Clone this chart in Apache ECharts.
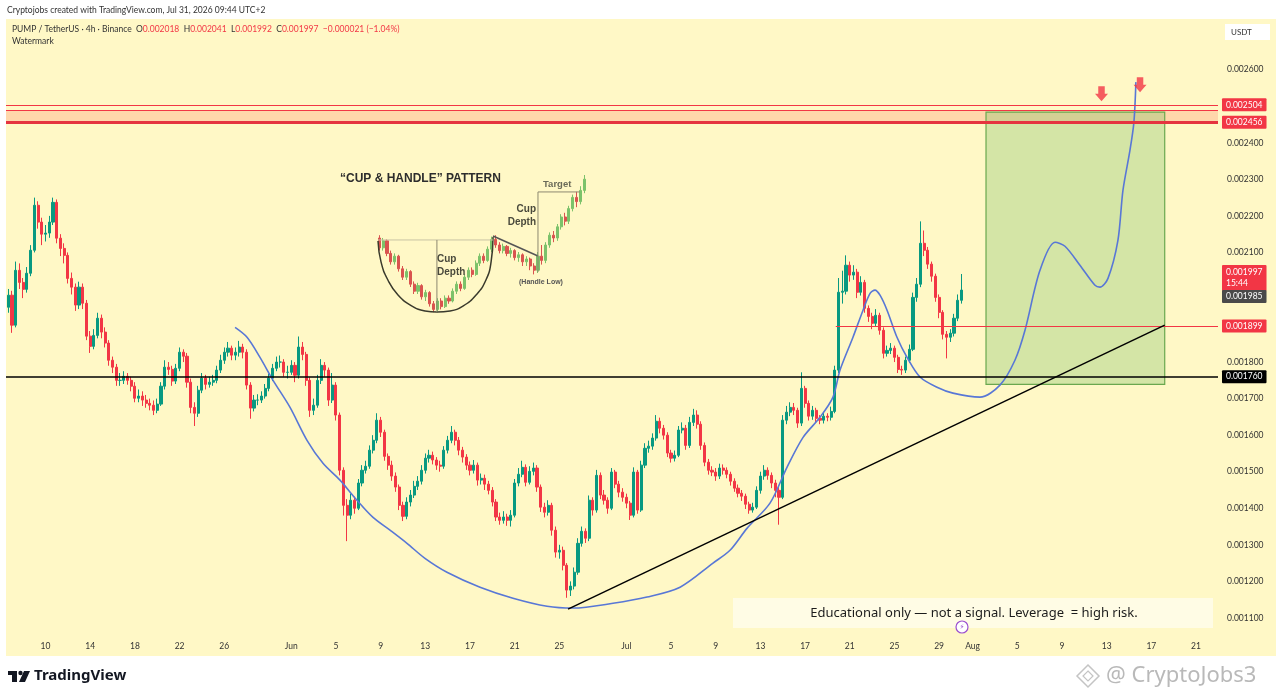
<!DOCTYPE html>
<html>
<head>
<meta charset="utf-8">
<title>PUMP / TetherUS 4h</title>
<style>
  html, body { margin: 0; padding: 0; background: #fff; }
  #main { width: 1280px; height: 697px; }
</style>
</head>
<body>
<div id="main"></div>
<script src="https://cdn.jsdelivr.net/npm/echarts@6/dist/echarts.min.js"></script>
<script>
// x unit = days since May 1 (day 0), prices in millionths of USDT
var firstDay = 5 + 2 / 3;      // first candle: May 6 16:00
var candleStep = 1 / 3;        // one candle every 8h
var firstOpen = 1950;

var closes = [
  1983,1901,2051,2018,1999,2043,2106,2229,2183,2150,
  2153,2183,2237,2139,2111,2092,2029,2005,1956,2005,
  1961,1871,1843,1873,1920,1882,1852,1805,1786,1750,
  1750,1761,1750,1734,1701,1707,1696,1687,1682,1668,
  1685,1734,1786,1780,1748,1783,1827,1816,1745,1676,
  1660,1723,1756,1739,1745,1750,1778,1805,1827,1838,
  1819,1827,1841,1827,1737,1674,1696,1696,1707,1728,
  1756,1783,1800,1800,1772,1772,1791,1764,1841,1821,
  1750,1668,1682,1750,1791,1778,1696,1737,1655,1504,
  1408,1381,1422,1400,1469,1504,1515,1559,1586,1641,
  1608,1542,1518,1488,1458,1408,1378,1417,1436,1460,
  1474,1504,1537,1545,1532,1518,1515,1559,1586,1608,
  1586,1559,1540,1518,1504,1518,1477,1482,1466,1449,
  1417,1376,1367,1376,1367,1381,1469,1493,1512,1471,
  1501,1510,1458,1403,1389,1408,1340,1280,1285,1244,
  1176,1187,1225,1304,1337,1318,1422,1395,1490,1436,
  1422,1400,1499,1466,1444,1430,1414,1381,1499,1395,
  1518,1564,1570,1592,1638,1619,1600,1551,1537,1545,
  1614,1619,1572,1635,1655,1630,1572,1526,1504,1499,
  1488,1510,1504,1493,1474,1455,1441,1433,1411,1395,
  1403,1449,1488,1504,1490,1469,1449,1430,1641,1663,
  1676,1668,1633,1728,1687,1652,1668,1646,1641,1652,
  1649,1665,1778,1991,1994,2065,2038,2046,1991,2018,
  1947,1925,1906,1928,1887,1824,1832,1838,1813,1780,
  1778,1805,1835,1977,2013,2125,2106,2068,2035,1977,
  1936,1876,1868,1879,1920,1969,1997
];
var highs = [
  2000,1995,2075,2070,2030,2060,2120,2250,2240,2195,
  2175,2200,2250,2245,2150,2125,2100,2045,2015,2020,
  2015,1970,1885,1890,1935,1930,1895,1860,1815,1795,
  1770,1775,1770,1760,1745,1725,1720,1710,1700,1695,
  1700,1745,1805,1800,1790,1795,1840,1835,1825,1755,
  1690,1735,1770,1765,1760,1765,1790,1820,1840,1855,
  1845,1840,1858,1850,1835,1745,1710,1712,1720,1740,
  1768,1795,1815,1818,1808,1790,1805,1800,1870,1855,
  1828,1758,1700,1765,1808,1800,1785,1770,1745,1662,
  1512,1425,1440,1432,1480,1518,1530,1572,1600,1660,
  1650,1615,1550,1530,1498,1465,1418,1430,1450,1475,
  1488,1518,1550,1560,1555,1540,1530,1570,1598,1625,
  1615,1595,1568,1548,1528,1532,1525,1495,1492,1475,
  1458,1425,1388,1392,1385,1395,1480,1510,1530,1520,
  1515,1525,1518,1465,1415,1422,1415,1350,1300,1295,
  1250,1200,1238,1318,1350,1345,1435,1430,1505,1498,
  1450,1430,1510,1505,1475,1455,1440,1420,1512,1505,
  1530,1578,1585,1605,1655,1648,1628,1608,1560,1558,
  1625,1635,1628,1650,1672,1668,1638,1580,1535,1515,
  1510,1522,1520,1512,1500,1482,1465,1450,1440,1418,
  1415,1460,1500,1518,1512,1498,1478,1458,1655,1680,
  1690,1688,1675,1772,1735,1695,1680,1675,1655,1662,
  1660,1678,1790,2030,2050,2092,2075,2065,2055,2035,
  2025,1955,1935,1945,1935,1895,1845,1852,1845,1820,
  1790,1815,1848,1990,2030,2185,2160,2115,2075,2042,
  1985,1942,1885,1890,1932,1985,2041
];
var lows = [
  1935,1880,1895,2000,1975,1990,2035,2100,2165,2120,
  2130,2140,2175,2125,2090,2070,2015,1985,1940,1945,
  1945,1860,1825,1835,1865,1865,1840,1790,1770,1735,
  1735,1740,1738,1720,1690,1690,1680,1675,1668,1655,
  1660,1680,1725,1765,1735,1740,1775,1800,1730,1660,
  1625,1650,1715,1725,1730,1735,1742,1770,1795,1815,
  1805,1805,1815,1810,1725,1645,1665,1682,1688,1700,
  1720,1748,1775,1785,1760,1755,1765,1745,1755,1805,
  1735,1650,1655,1675,1740,1760,1680,1688,1640,1490,
  1380,1310,1370,1385,1395,1460,1495,1508,1550,1578,
  1595,1530,1505,1475,1445,1395,1365,1370,1405,1428,
  1450,1465,1495,1525,1520,1505,1500,1508,1550,1578,
  1572,1545,1525,1505,1490,1495,1462,1465,1450,1438,
  1405,1365,1355,1358,1352,1350,1375,1460,1485,1460,
  1465,1490,1445,1390,1375,1380,1325,1265,1262,1230,
  1155,1160,1178,1218,1295,1305,1310,1380,1388,1425,
  1410,1385,1395,1455,1430,1418,1400,1368,1375,1385,
  1390,1510,1552,1560,1585,1605,1588,1540,1525,1528,
  1540,1605,1560,1565,1625,1618,1560,1515,1492,1488,
  1475,1480,1492,1482,1462,1445,1430,1420,1398,1385,
  1388,1398,1440,1478,1478,1455,1430,1355,1425,1630,
  1652,1655,1620,1625,1675,1640,1642,1635,1630,1632,
  1638,1640,1660,1770,1960,1985,2020,2025,1975,1982,
  1935,1910,1890,1898,1875,1810,1815,1822,1800,1770,
  1765,1770,1798,1830,1965,2005,2090,2055,2020,1965,
  1920,1862,1810,1855,1870,1912,1960
];

// hand-drawn projection curve (blue)
var curveDays = [25.97,27.04,28.20,29.37,30.89,32.41,33.84,35.36,36.88,38.32,39.84,41.36,42.97,44.94,47.90,50.85,53.90,56.23,59.81,62.85,65.81,68.76,70.28,71.80,73.86,75.38,76.82,78.34,79.50,80.13,81.29,82.19,82.82,83.26,83.71,84.34,85.23,86.13,87.29,88.81,90.24,92.66,94.45,95.79,96.69,98.03,99.38,100.27,101.61,102.96,103.40,104.12,105.01,105.46,106.09,106.44,106.62];
var curvePrices = [1895,1868,1813,1750,1676,1586,1523,1477,1422,1375,1340,1304,1263,1225,1184,1154,1132,1127,1140,1157,1184,1250,1285,1345,1414,1512,1594,1649,1704,1778,1868,1942,1988,1997,1983,1942,1868,1813,1759,1731,1715,1704,1737,1805,1887,2051,2128,2117,2065,2010,2005,2029,2133,2270,2380,2456,2566];

// drawing levels
var resistTop = 0.002504, resistZoneTop = 0.00249, resistLine = 0.002456;
var supportLine = 0.00176, midLine = 0.001899, midLineStart = 79.75;
var lastPrice = 0.001997, prevClose = 0.001985;
var trendFrom = [55.78, 0.001124], trendTo = [109.2, 0.001901];
var targetBox = [[93.2, 0.002484], [109.2, 0.001739]];
var arrowDays = [103.54, 106.99], arrowPrices = [0.002534, 0.002559];

// axis ticks
var xTickDays = [9,13,17,21,25,31,35,39,43,47,51,55,61,65,69,73,77,81,85,89,92,96,100,104,108,112];
var xTickLabels = ['10','14','18','22','26','Jun','5','9','13','17','21','25','Jul','5','9','13','17','21','25','29','Aug','5','9','13','17','21'];
var yTickValues = [0.0011,0.0012,0.0013,0.0014,0.0015,0.0016,0.0017,0.0018,0.0021,0.0022,0.0023,0.0024,0.0026];

// cup & handle illustration (own 0..100 units)
var insetOpen  = [55,48,53,44,38,42,33,27,31,22,17,21,13,16,8,4, 10,6,12,10,17,22,19,27,32,29,37,42,39,47, 54,50,46,49,44,46,41,43,38,40,35, 32,42,39,50,57,55,63,70,67,76,84,81,89];
var insetClose = [48,53,44,38,42,33,27,31,22,17,21,13,16,8,4,10, 6,12,10,17,22,19,27,32,29,37,42,39,47,54, 50,46,49,44,46,41,43,38,40,35,32, 42,39,50,57,55,63,70,67,76,84,81,89,97];
var insetLow   = [46,46,42,36,36,31,25,25,20,15,15,11,10,6,2,2, 4,5,8,9,15,17,18,25,27,28,35,37,38,45, 48,44,44,42,41,39,38,35,35,32,29, 30,36,37,48,52,53,61,64,65,74,77,79,87];
var insetHigh  = [57,55,54,46,44,43,35,33,32,24,23,22,18,17,10,12, 12,14,14,19,24,24,29,34,34,39,44,44,49,56, 57,52,51,50,48,47,45,44,42,41,37, 45,50,52,59,60,65,72,73,78,86,88,92,100];
var insetArc = [[1.4,52.9],[2.8,37.9],[6.0,25.0],[10.7,14.3],[17.2,6.4],[23.3,2.9],[28.8,2.1],[34.9,2.9],[40.9,6.4],[47.0,14.3],[51.6,25.0],[54.0,37.9],[54.9,55.7]];
var insetCupTop = [[1.4,53.6],[54.9,53.6]];
var insetCupDepth = [[28.8,53.6],[28.8,2.1]];
var insetHandle = [[54.9,56.4],[75.8,42.1]];
var insetBreakDepth = [[75.8,87.9],[75.8,30.7]];
var insetTarget = [[75.8,87.9],[95.3,87.9]];

var UP = '#089981', DOWN = '#f23645';
var FONT = 'Lato';

var candleData = closes.map(function (c, i) {
  var o = i === 0 ? firstOpen : closes[i - 1];
  var h = Math.max(highs[i], o, c), l = Math.min(lows[i], o, c);
  return [firstDay + i * candleStep, o / 1e6, c / 1e6, l / 1e6, h / 1e6];
});
var curveData = curveDays.map(function (d, i) { return [d, curvePrices[i] / 1e6]; });
var arrowData = arrowDays.map(function (d, i) { return [d, arrowPrices[i]]; });
var insetData = insetOpen.map(function (o, i) {
  return [2 + 1.8 * i, o, insetClose[i], insetLow[i], insetHigh[i]];
});

function insetLine(data, color, width, smooth) {
  return {
    type: 'line', xAxisIndex: 1, yAxisIndex: 1, data: data, smooth: smooth || false,
    symbol: 'none', silent: true, z: 3,
    lineStyle: { color: color, width: width }
  };
}

var axisBox = { color: '#fff', fontSize: 8.5, fontFamily: FONT, padding: [2, 4, 2, 4], borderRadius: 1 };
function boxLabel(bg, text, extra) {
  var l = Object.assign({ show: true, position: 'end', distance: 4, backgroundColor: bg, formatter: text }, axisBox);
  return Object.assign(l, extra || {});
}
var hiddenLine = { color: 'rgba(0,0,0,0)', width: 1, type: 'solid' };

var chart = echarts.init(document.getElementById('main'));
var option = {
  backgroundColor: '#ffffff',
  animation: false,
  grid: [
    { left: 6, right: 62, top: 20, bottom: 59 },
    { left: 375, top: 175, width: 215, height: 140 }
  ],
  xAxis: [
    {
      type: 'value', gridIndex: 0, min: 5.46, max: 113.97,
      axisLine: { show: false }, axisTick: { show: false }, splitLine: { show: false },
      axisLabel: {
        customValues: xTickDays, color: '#333', fontSize: 8.5, fontFamily: FONT, margin: 4,
        formatter: function (v) {
          var k = xTickDays.indexOf(Math.round(v));
          return k < 0 ? '' : xTickLabels[k];
        }
      }
    },
    { type: 'value', gridIndex: 1, min: 0, max: 100, show: false }
  ],
  yAxis: [
    {
      type: 'value', gridIndex: 0, position: 'right', min: 0.001045, max: 0.002736,
      axisLine: { show: false }, axisTick: { show: false }, splitLine: { show: false },
      axisLabel: {
        customValues: yTickValues, color: '#333', fontSize: 8.5, fontFamily: FONT, margin: 9,
        align: 'left', formatter: function (v) { return v.toFixed(6); }
      }
    },
    { type: 'value', gridIndex: 1, min: 0, max: 100, show: false }
  ],
  series: [
    {
      type: 'candlestick', data: candleData, barWidth: 2.6,
      itemStyle: { color: UP, color0: DOWN, borderColor: UP, borderColor0: DOWN, borderWidth: 1 }
    },
    {
      type: 'line', data: curveData, smooth: 0.3, symbol: 'none', clip: false, z: 4,
      lineStyle: { color: '#5877d6', width: 1.6 },
      markArea: {
        silent: true,
        label: { show: false },
        data: [
          [{ yAxis: resistLine, itemStyle: { color: 'rgba(255,140,110,0.3)' } }, { yAxis: resistZoneTop }],
          [{ coord: targetBox[0], itemStyle: { color: 'rgba(120,190,100,0.32)', borderColor: '#6aa84f', borderWidth: 1.2 } },
           { coord: targetBox[1] }]
        ]
      },
      markLine: {
        silent: true, symbol: ['none', 'none'], precision: 8,
        data: [
          { yAxis: resistTop, lineStyle: { color: DOWN, width: 1.2, type: 'solid' }, label: boxLabel(DOWN, '0.002504') },
          { yAxis: resistZoneTop, lineStyle: { color: DOWN, width: 1, type: 'solid' }, label: { show: false } },
          { yAxis: resistLine, lineStyle: { color: '#e5343f', width: 3, type: 'solid' }, label: boxLabel(DOWN, '0.002456') },
          { yAxis: supportLine, lineStyle: { color: '#000', width: 1.6, type: 'solid' }, label: boxLabel('#000', '0.001760') },
          [{ coord: [midLineStart, midLine], lineStyle: { color: DOWN, width: 1, type: 'solid' }, label: boxLabel(DOWN, '0.001899') },
           { coord: [113.97, midLine] }],
          [{ coord: trendFrom, lineStyle: { color: '#000', width: 1.5, type: 'solid' }, label: { show: false } },
           { coord: trendTo }],
          { yAxis: lastPrice, lineStyle: hiddenLine, label: boxLabel(DOWN, '0.001997\n15:44', { offset: [0, -12], lineHeight: 11 }) },
          { yAxis: prevClose, lineStyle: hiddenLine, label: boxLabel('#4a4a4a', '0.001985', { offset: [0, 2] }) }
        ]
      }
    },
    {
      type: 'scatter', data: arrowData, silent: true, z: 5,
      symbol: 'path://M3,0 L9,0 L9,7 L12,7 L6,14 L0,7 L3,7 Z', symbolSize: [13, 15],
      itemStyle: { color: '#f23645' }
    },
    {
      type: 'candlestick', xAxisIndex: 1, yAxisIndex: 1, data: insetData, barWidth: 2.6, silent: true,
      itemStyle: { color: '#7cc26a', color0: '#d9534f', borderColor: '#7cc26a', borderColor0: '#d9534f', borderWidth: 1 }
    },
    insetLine(insetArc, '#3a3a2c', 1.5, true),
    insetLine(insetCupTop, '#c9c3a3', 1),
    insetLine(insetCupDepth, '#8d8870', 1),
    insetLine(insetHandle, '#555', 1.5),
    insetLine(insetBreakDepth, '#8d8870', 1),
    insetLine(insetTarget, '#8d8870', 1)
  ],
  graphic: [
    { type: 'rect', z: -10, silent: true, shape: { x: 6, y: 19, width: 1270, height: 637 }, style: { fill: '#fff8c6' } },
    { type: 'text', x: 7, y: 10, style: { text: 'Cryptojobs created with TradingView.com, Jul 31, 2026 09:44 UTC+2', font: '8.5px Lato', fill: '#333', verticalAlign: 'middle' } },
    { type: 'text', x: 12, y: 29, style: {
        text: '{n|PUMP / TetherUS · 4h · Binance  O}{r|0.002018}{n|  H}{r|0.002041}{n|  L}{r|0.001992}{n|  C}{r|0.001997}{n|  }{r|\u22120.000021 (\u22121.04%)}',
        verticalAlign: 'middle',
        rich: { n: { fill: '#333', font: '8.5px Lato' }, r: { fill: '#f23645', font: '8.5px Lato' } }
    } },
    { type: 'text', x: 12, y: 41, style: { text: 'Watermark', font: '8.5px Lato', fill: '#333', verticalAlign: 'middle' } },
    // currency box on price scale
    { type: 'rect', shape: { x: 1225, y: 24, width: 45, height: 16 }, style: { fill: '#fff' } },
    { type: 'text', x: 1231, y: 32, style: { text: 'USDT', font: '8px Lato', fill: '#333', verticalAlign: 'middle' } },
    // cup & handle captions
    { type: 'text', x: 340, y: 179, style: { text: '\u201CCUP & HANDLE\u201D PATTERN', font: 'bold 12px "Liberation Sans"', fill: '#2d2d2d', verticalAlign: 'middle' } },
    { type: 'text', x: 437, y: 259, z: 10, style: { text: 'Cup', font: 'bold 10px "Liberation Sans"', fill: '#4a4a3c', verticalAlign: 'middle' } },
    { type: 'text', x: 437, y: 272, z: 10, style: { text: 'Depth', font: 'bold 10px "Liberation Sans"', fill: '#4a4a3c', verticalAlign: 'middle' } },
    { type: 'text', x: 536, y: 209, z: 10, style: { text: 'Cup', font: 'bold 10px "Liberation Sans"', fill: '#4a4a3c', align: 'right', verticalAlign: 'middle' } },
    { type: 'text', x: 536, y: 222, z: 10, style: { text: 'Depth', font: 'bold 10px "Liberation Sans"', fill: '#4a4a3c', align: 'right', verticalAlign: 'middle' } },
    { type: 'text', x: 543, y: 184, z: 10, style: { text: 'Target', font: 'bold 9.5px "Liberation Sans"', fill: '#6a6a58', verticalAlign: 'middle' } },
    { type: 'text', x: 519, y: 282, z: 10, style: { text: '(Handle Low)', font: 'bold 7px "Liberation Sans"', fill: '#555', verticalAlign: 'middle' } },
    // disclaimer
    { type: 'rect', shape: { x: 733, y: 598, width: 480, height: 30 }, style: { fill: 'rgba(255,255,255,0.55)' } },
    { type: 'text', x: 974, y: 613, style: { text: 'Educational only \u2014 not a signal. Leverage  = high risk.', font: '13px "Noto Sans"', fill: '#1c1c1c', align: 'center', verticalAlign: 'middle' } },
    { type: 'circle', shape: { cx: 962, cy: 627, r: 6 }, style: { fill: '#fff', stroke: '#9b4fd0', lineWidth: 1.2 } },
    { type: 'text', x: 962, y: 627, style: { text: '\u26A1', font: '7px "DejaVu Sans"', fill: '#9b4fd0', align: 'center', verticalAlign: 'middle' } },
    // TradingView logo
    { type: 'rect', shape: { x: 8, y: 671, width: 9, height: 4 }, style: { fill: '#131722' } },
    { type: 'rect', shape: { x: 12, y: 671, width: 5, height: 11 }, style: { fill: '#131722' } },
    { type: 'circle', shape: { cx: 20.5, cy: 673, r: 2.2 }, style: { fill: '#131722' } },
    { type: 'polygon', shape: { points: [[24, 671], [30, 671], [25, 682], [19, 682]] }, style: { fill: '#131722' } },
    { type: 'text', x: 34, y: 676, style: { text: 'TradingView', font: 'bold 15px "Noto Sans"', fill: '#131722', verticalAlign: 'middle' } },
    // watermark
    { type: 'polygon', shape: { points: [[1088, 665], [1099, 676], [1088, 687], [1077, 676]] }, style: { fill: 'none', stroke: '#c4c4c4', lineWidth: 1.5 } },
    { type: 'polygon', shape: { points: [[1088, 671], [1093, 676], [1088, 681], [1083, 676]] }, style: { fill: 'none', stroke: '#c4c4c4', lineWidth: 1.2 } },
    { type: 'text', x: 1106, y: 676, style: { text: '@ CryptoJobs3', font: '22px "Noto Sans"', fill: '#b9b9b9', verticalAlign: 'middle' } }
  ]
};
chart.setOption(option);
</script>
</body>
</html>
